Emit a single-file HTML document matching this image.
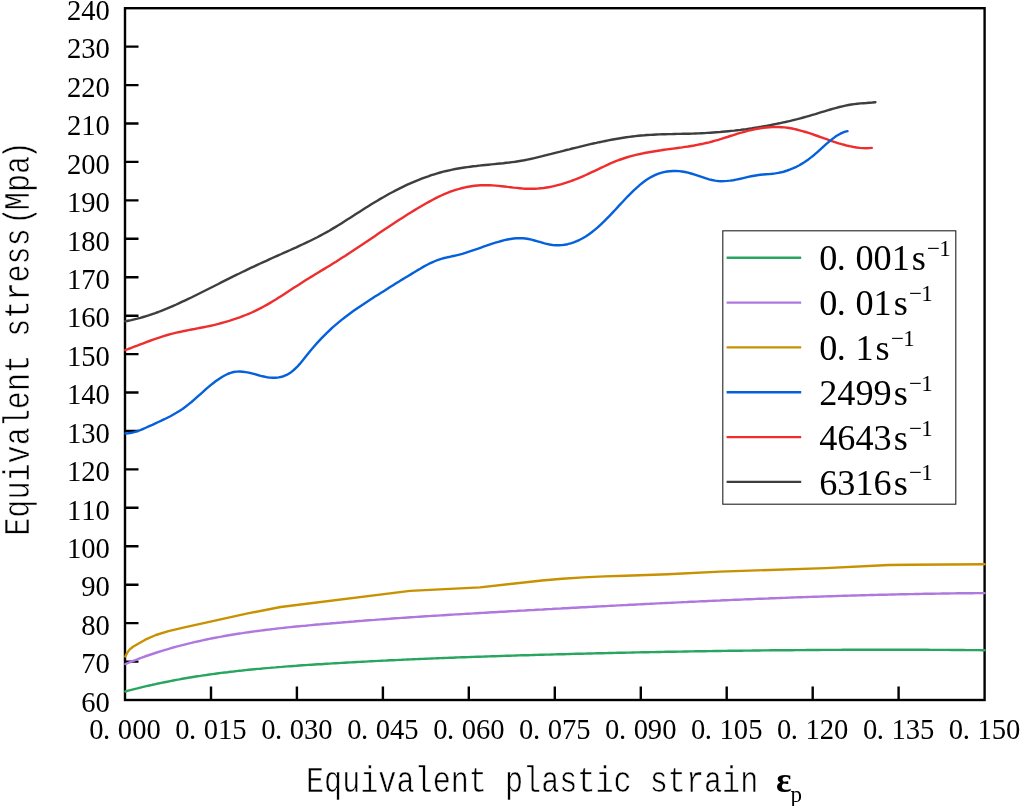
<!DOCTYPE html>
<html><head><meta charset="utf-8"><title>Equivalent stress vs equivalent plastic strain</title>
<style>html,body{margin:0;padding:0;background:#fff}svg{display:block}</style></head>
<body>
<svg width="1020" height="806" viewBox="0 0 1020 806" font-family='"Liberation Serif", serif' fill="#000">
<rect width="1020" height="806" fill="#fff"/>
<g stroke="#000" stroke-width="2.4" fill="none">
<rect x="125.0" y="8.2" width="859.6" height="691.8"/>
<path d="M125.0 661.6H138.5M125.0 623.1H138.5M125.0 584.7H138.5M125.0 546.3H138.5M125.0 507.8H138.5M125.0 469.4H138.5M125.0 431H138.5M125.0 392.5H138.5M125.0 354.1H138.5M125.0 315.7H138.5M125.0 277.2H138.5M125.0 238.8H138.5M125.0 200.4H138.5M125.0 161.9H138.5M125.0 123.5H138.5M125.0 85.1H138.5M125.0 46.6H138.5M211 700.0V686.5M296.9 700.0V686.5M382.9 700.0V686.5M468.8 700.0V686.5M554.8 700.0V686.5M640.8 700.0V686.5M726.7 700.0V686.5M812.7 700.0V686.5M898.6 700.0V686.5"/>
</g>
<g fill="none" stroke-linejoin="round" stroke-linecap="round" stroke-width="2.4">
<path d="M125.3 321.3 L128.3 320.7 L131.3 320.1 L134.3 319.4 L137.3 318.7 L140.3 317.9 L143.3 317 L146.3 316.1 L149.3 315.2 L152.3 314.1 L155.3 313.1 L158.3 312 L161.3 310.8 L164.3 309.6 L167.3 308.4 L170.3 307.1 L173.3 305.8 L176.3 304.5 L179.3 303.1 L182.3 301.7 L185.3 300.3 L188.3 298.9 L191.3 297.5 L194.3 296 L197.3 294.5 L200.3 293 L203.3 291.5 L206.3 290 L209.3 288.5 L212.3 287 L215.3 285.5 L218.3 284 L221.3 282.4 L224.3 280.9 L227.3 279.4 L230.3 277.9 L233.3 276.4 L236.3 274.9 L239.3 273.5 L242.3 272 L245.3 270.6 L248.3 269.1 L251.3 267.7 L254.3 266.3 L257.3 264.9 L260.3 263.5 L263.3 262.1 L266.3 260.8 L269.3 259.4 L272.3 258 L275.3 256.7 L278.3 255.3 L281.3 254 L284.3 252.6 L287.3 251.3 L290.3 250 L293.3 248.6 L296.3 247.3 L299.3 245.9 L302.3 244.5 L305.3 243.1 L308.3 241.7 L311.3 240.2 L314.3 238.7 L317.3 237.2 L320.3 235.6 L323.3 234 L326.3 232.4 L329.3 230.7 L332.3 228.9 L335.3 227.1 L338.3 225.3 L341.3 223.4 L344.3 221.5 L347.3 219.6 L350.3 217.7 L353.3 215.8 L356.3 213.8 L359.3 211.9 L362.3 210 L365.3 208.1 L368.3 206.2 L371.3 204.3 L374.3 202.5 L377.3 200.7 L380.3 198.9 L383.3 197.2 L386.3 195.5 L389.3 193.8 L392.3 192.2 L395.3 190.6 L398.3 189.1 L401.3 187.6 L404.3 186.1 L407.3 184.7 L410.3 183.4 L413.3 182.1 L416.3 180.8 L419.3 179.6 L422.3 178.4 L425.3 177.3 L428.3 176.3 L431.3 175.2 L434.3 174.3 L437.3 173.4 L440.3 172.5 L443.3 171.7 L446.3 171 L449.3 170.3 L452.3 169.6 L455.3 169 L458.3 168.5 L461.3 168 L464.3 167.5 L467.3 167.1 L470.3 166.7 L473.3 166.3 L476.3 166 L479.3 165.6 L482.3 165.3 L485.3 165 L488.3 164.7 L491.3 164.4 L494.3 164.1 L497.3 163.8 L500.3 163.5 L503.3 163.2 L506.3 162.8 L509.3 162.5 L512.3 162.1 L515.3 161.7 L518.3 161.2 L521.3 160.7 L524.3 160.2 L527.3 159.6 L530.3 159 L533.3 158.3 L536.3 157.6 L539.3 156.9 L542.3 156.2 L545.3 155.4 L548.3 154.6 L551.3 153.9 L554.3 153.1 L557.3 152.3 L560.3 151.6 L563.3 150.8 L566.3 150 L569.3 149.3 L572.3 148.5 L575.3 147.8 L578.3 147.1 L581.3 146.3 L584.3 145.6 L587.3 144.9 L590.3 144.2 L593.3 143.5 L596.3 142.9 L599.3 142.2 L602.3 141.6 L605.3 141 L608.3 140.4 L611.3 139.8 L614.3 139.2 L617.3 138.7 L620.3 138.2 L623.3 137.7 L626.3 137.3 L629.3 136.9 L632.3 136.5 L635.3 136.1 L638.3 135.8 L641.3 135.5 L644.3 135.3 L647.3 135 L650.3 134.9 L653.3 134.7 L656.3 134.5 L659.3 134.4 L662.3 134.3 L665.3 134.2 L668.3 134.1 L671.3 134.1 L674.3 134 L677.3 133.9 L680.3 133.9 L683.3 133.8 L686.3 133.8 L689.3 133.7 L692.3 133.6 L695.3 133.5 L698.3 133.4 L701.3 133.2 L704.3 133.1 L707.3 132.9 L710.3 132.7 L713.3 132.5 L716.3 132.3 L719.3 132.1 L722.3 131.8 L725.3 131.5 L728.3 131.2 L731.3 130.9 L734.3 130.6 L737.3 130.2 L740.3 129.9 L743.3 129.5 L746.3 129.1 L749.3 128.6 L752.3 128.2 L755.3 127.7 L758.3 127.3 L761.3 126.8 L764.3 126.2 L767.3 125.7 L770.3 125.1 L773.3 124.5 L776.3 123.9 L779.3 123.3 L782.3 122.6 L785.3 122 L788.3 121.3 L791.3 120.6 L794.3 119.8 L797.3 119.1 L800.4 118.3 L803.4 117.5 L806.4 116.7 L809.4 115.8 L812.4 114.9 L815.4 114.1 L818.4 113.1 L821.4 112.2 L824.4 111.3 L827.4 110.4 L830.4 109.5 L833.4 108.6 L836.4 107.8 L839.4 107 L842.4 106.3 L845.4 105.6 L848.4 105 L851.4 104.5 L854.4 104.1 L857.4 103.7 L860.4 103.4 L863.4 103.2 L866.4 103 L869.4 102.7 L872.4 102.5 L875.4 102.2" stroke="#3e3e3e"/>
<path d="M125.3 350.2 L128.3 349 L131.3 347.9 L134.3 346.7 L137.3 345.6 L140.3 344.4 L143.3 343.3 L146.3 342.1 L149.4 341 L152.4 339.9 L155.4 338.8 L158.4 337.8 L161.4 336.8 L164.4 335.9 L167.4 335 L170.4 334.1 L173.4 333.4 L176.4 332.6 L179.5 332 L182.5 331.3 L185.5 330.7 L188.5 330.1 L191.5 329.5 L194.5 329 L197.5 328.4 L200.5 327.8 L203.5 327.2 L206.5 326.6 L209.6 326 L212.6 325.3 L215.6 324.6 L218.6 323.8 L221.6 323 L224.6 322.2 L227.6 321.3 L230.6 320.4 L233.6 319.4 L236.6 318.4 L239.7 317.4 L242.7 316.2 L245.7 315 L248.7 313.8 L251.7 312.5 L254.7 311.1 L257.7 309.6 L260.7 308.1 L263.7 306.5 L266.7 304.9 L269.8 303.1 L272.8 301.3 L275.8 299.5 L278.8 297.6 L281.8 295.7 L284.8 293.7 L287.8 291.8 L290.8 289.8 L293.8 287.8 L296.8 285.9 L299.9 283.9 L302.9 282 L305.9 280.1 L308.9 278.2 L311.9 276.4 L314.9 274.5 L317.9 272.7 L320.9 270.9 L323.9 269.1 L326.9 267.3 L330 265.4 L333 263.5 L336 261.7 L339 259.8 L342 257.8 L345 255.9 L348 253.9 L351 252 L354 250 L357 248 L360.1 246 L363.1 244 L366.1 242 L369.1 239.9 L372.1 237.9 L375.1 235.9 L378.1 233.8 L381.1 231.8 L384.1 229.8 L387.2 227.8 L390.2 225.8 L393.2 223.8 L396.2 221.8 L399.2 219.8 L402.2 217.9 L405.2 216 L408.2 214.1 L411.2 212.2 L414.2 210.4 L417.3 208.5 L420.3 206.7 L423.3 205 L426.3 203.3 L429.3 201.6 L432.3 200 L435.3 198.4 L438.3 196.9 L441.3 195.5 L444.3 194.1 L447.4 192.9 L450.4 191.7 L453.4 190.6 L456.4 189.6 L459.4 188.8 L462.4 188 L465.4 187.3 L468.4 186.7 L471.4 186.2 L474.4 185.8 L477.5 185.5 L480.5 185.3 L483.5 185.2 L486.5 185.1 L489.5 185.2 L492.5 185.4 L495.5 185.6 L498.5 185.9 L501.5 186.2 L504.5 186.5 L507.6 186.9 L510.6 187.2 L513.6 187.6 L516.6 187.9 L519.6 188.2 L522.6 188.5 L525.6 188.7 L528.6 188.8 L531.6 188.8 L534.6 188.8 L537.7 188.6 L540.7 188.3 L543.7 188 L546.7 187.5 L549.7 187 L552.7 186.4 L555.7 185.7 L558.7 184.9 L561.7 184.1 L564.7 183.1 L567.8 182.1 L570.8 181.1 L573.8 180 L576.8 178.8 L579.8 177.6 L582.8 176.3 L585.8 175 L588.8 173.6 L591.8 172.2 L594.8 170.8 L597.9 169.4 L600.9 167.9 L603.9 166.5 L606.9 165.1 L609.9 163.7 L612.9 162.4 L615.9 161.2 L618.9 160 L621.9 159 L624.9 158 L628 157 L631 156.2 L634 155.4 L637 154.6 L640 154 L643 153.3 L646 152.7 L649 152.2 L652 151.7 L655 151.2 L658.1 150.7 L661.1 150.3 L664.1 149.8 L667.1 149.4 L670.1 149 L673.1 148.6 L676.1 148.2 L679.1 147.8 L682.1 147.4 L685.1 146.9 L688.2 146.5 L691.2 146 L694.2 145.5 L697.2 144.9 L700.2 144.3 L703.2 143.7 L706.2 143 L709.2 142.3 L712.2 141.5 L715.2 140.6 L718.3 139.8 L721.3 138.9 L724.3 137.9 L727.3 137 L730.3 136 L733.3 135.1 L736.3 134.1 L739.3 133.2 L742.3 132.4 L745.3 131.5 L748.4 130.7 L751.4 130 L754.4 129.3 L757.4 128.7 L760.4 128.2 L763.4 127.8 L766.4 127.5 L769.4 127.2 L772.4 127.1 L775.4 127 L778.5 127 L781.5 127.2 L784.5 127.4 L787.5 127.8 L790.5 128.3 L793.5 128.8 L796.5 129.5 L799.5 130.3 L802.5 131.1 L805.6 132 L808.6 132.9 L811.6 133.9 L814.6 135 L817.6 136 L820.6 137.1 L823.6 138.2 L826.6 139.2 L829.6 140.3 L832.6 141.3 L835.7 142.3 L838.7 143.3 L841.7 144.2 L844.7 145 L847.7 145.8 L850.7 146.4 L853.7 147 L856.7 147.5 L859.7 147.9 L862.7 148.1 L865.8 148.2 L868.8 148.1 L871.8 147.9" stroke="#ee2d2d"/>
<path d="M125.3 433.5 L128.3 433.3 L131.3 432.8 L134.3 432.1 L137.3 431.2 L140.3 430.1 L143.3 428.8 L146.3 427.5 L149.3 426.1 L152.4 424.8 L155.4 423.4 L158.4 422 L161.4 420.6 L164.4 419.2 L167.4 417.7 L170.4 416.2 L173.4 414.5 L176.4 412.8 L179.4 410.9 L182.5 408.9 L185.5 406.8 L188.5 404.4 L191.5 402 L194.5 399.4 L197.5 396.7 L200.5 394.1 L203.5 391.4 L206.5 388.7 L209.5 386.2 L212.5 383.7 L215.6 381.3 L218.6 379.2 L221.6 377.2 L224.6 375.5 L227.6 374 L230.6 372.9 L233.6 372 L236.6 371.6 L239.6 371.5 L242.6 371.7 L245.6 372.1 L248.7 372.6 L251.7 373.4 L254.7 374.2 L257.7 375 L260.7 375.8 L263.7 376.5 L266.7 377.2 L269.7 377.6 L272.7 377.8 L275.7 377.8 L278.7 377.4 L281.8 376.8 L284.8 375.7 L287.8 374.3 L290.8 372.4 L293.8 370 L296.8 367.2 L299.8 363.9 L302.8 360.3 L305.8 356.5 L308.8 352.7 L311.9 349 L314.9 345.5 L317.9 342.1 L320.9 338.9 L323.9 335.8 L326.9 332.8 L329.9 330 L332.9 327.2 L335.9 324.6 L338.9 322.1 L341.9 319.6 L345 317.2 L348 315 L351 312.7 L354 310.6 L357 308.5 L360 306.4 L363 304.4 L366 302.4 L369 300.5 L372 298.6 L375 296.6 L378.1 294.7 L381.1 292.8 L384.1 290.9 L387.1 289 L390.1 287.1 L393.1 285.2 L396.1 283.3 L399.1 281.5 L402.1 279.6 L405.1 277.8 L408.2 275.9 L411.2 274.1 L414.2 272.3 L417.2 270.4 L420.2 268.7 L423.2 266.9 L426.2 265.3 L429.2 263.7 L432.2 262.3 L435.2 261 L438.2 259.8 L441.3 258.8 L444.3 258 L447.3 257.3 L450.3 256.7 L453.3 256 L456.3 255.3 L459.3 254.6 L462.3 253.8 L465.3 252.9 L468.3 251.9 L471.3 250.9 L474.4 249.9 L477.4 248.9 L480.4 247.8 L483.4 246.7 L486.4 245.7 L489.4 244.6 L492.4 243.6 L495.4 242.7 L498.4 241.8 L501.4 241 L504.4 240.2 L507.5 239.5 L510.5 239 L513.5 238.5 L516.5 238.2 L519.5 238.1 L522.5 238.2 L525.5 238.5 L528.5 239 L531.5 239.7 L534.5 240.5 L537.6 241.3 L540.6 242.2 L543.6 243.1 L546.6 243.8 L549.6 244.5 L552.6 245 L555.6 245.2 L558.6 245.3 L561.6 245.1 L564.6 244.8 L567.6 244.2 L570.7 243.4 L573.7 242.4 L576.7 241.2 L579.7 239.8 L582.7 238.3 L585.7 236.5 L588.7 234.5 L591.7 232.3 L594.7 229.9 L597.7 227.4 L600.7 224.6 L603.8 221.7 L606.8 218.7 L609.8 215.6 L612.8 212.4 L615.8 209.2 L618.8 205.9 L621.8 202.7 L624.8 199.5 L627.8 196.3 L630.8 193.3 L633.8 190.3 L636.9 187.6 L639.9 184.9 L642.9 182.5 L645.9 180.3 L648.9 178.3 L651.9 176.6 L654.9 175.2 L657.9 173.9 L660.9 172.9 L663.9 172.1 L667 171.5 L670 171.2 L673 171 L676 171 L679 171.1 L682 171.5 L685 172 L688 172.7 L691 173.5 L694 174.4 L697 175.4 L700.1 176.4 L703.1 177.4 L706.1 178.4 L709.1 179.3 L712.1 180 L715.1 180.6 L718.1 181 L721.1 181.2 L724.1 181.1 L727.1 180.9 L730.1 180.6 L733.2 180.2 L736.2 179.6 L739.2 179 L742.2 178.3 L745.2 177.6 L748.2 176.9 L751.2 176.3 L754.2 175.7 L757.2 175.2 L760.2 174.8 L763.2 174.5 L766.3 174.3 L769.3 174.1 L772.3 173.8 L775.3 173.4 L778.3 172.9 L781.3 172.3 L784.3 171.5 L787.3 170.5 L790.3 169.4 L793.3 168.2 L796.4 166.8 L799.4 165.2 L802.4 163.4 L805.4 161.5 L808.4 159.4 L811.4 157.1 L814.4 154.7 L817.4 152.1 L820.4 149.4 L823.4 146.6 L826.4 143.9 L829.5 141.3 L832.5 138.9 L835.5 136.6 L838.5 134.7 L841.5 133.1 L844.5 131.9 L847.5 131.1" stroke="#0560dc"/>
<path d="M125.3 656.5 L127.3 652.6 L129.5 649.6 L133 646.8 L136.9 644.5 L145.3 639.7 L155.9 635 L168.5 631.2 L183.3 627.6 L246.6 613.7 L280.6 607 L410 590.9 L480 587.4 L542 580.5 L562.2 578.7 L583.3 577.4 L604.4 576.4 L625.5 575.7 L667.7 574.3 L720 571.6 L825.5 568.1 L888.8 565 L909.9 564.7 L984.6 564.2" stroke="#c89100"/>
<path d="M125.3 664.1 L128.3 662.8 L131.3 661.6 L134.3 660.5 L137.3 659.3 L140.3 658.2 L143.3 657.1 L146.3 656 L149.3 655 L152.3 654 L155.3 653 L158.3 652 L161.3 651.1 L164.3 650.2 L167.3 649.3 L170.3 648.4 L173.3 647.5 L176.4 646.7 L179.4 645.9 L182.4 645.1 L185.4 644.3 L188.4 643.6 L191.4 642.9 L194.4 642.1 L197.4 641.5 L200.4 640.8 L203.4 640.1 L206.4 639.5 L209.4 638.9 L212.4 638.3 L215.4 637.7 L218.4 637.1 L221.4 636.6 L224.4 636 L227.4 635.5 L230.4 635 L233.4 634.5 L236.4 634 L239.4 633.5 L242.4 633.1 L245.5 632.6 L248.5 632.2 L251.5 631.8 L254.5 631.4 L257.5 631 L260.5 630.6 L263.5 630.2 L266.5 629.8 L269.5 629.5 L272.5 629.1 L275.5 628.8 L278.5 628.4 L281.5 628.1 L284.5 627.8 L287.5 627.4 L290.5 627.1 L293.5 626.8 L296.5 626.5 L299.5 626.2 L302.5 625.9 L305.5 625.7 L308.5 625.4 L311.6 625.1 L314.6 624.8 L317.6 624.5 L320.6 624.3 L323.6 624 L326.6 623.7 L329.6 623.5 L332.6 623.2 L335.6 623 L338.6 622.7 L341.6 622.5 L344.6 622.2 L347.6 622 L350.6 621.7 L353.6 621.5 L356.6 621.2 L359.6 621 L362.6 620.8 L365.6 620.5 L368.6 620.3 L371.6 620.1 L374.6 619.9 L377.7 619.6 L380.7 619.4 L383.7 619.2 L386.7 619 L389.7 618.8 L392.7 618.5 L395.7 618.3 L398.7 618.1 L401.7 617.9 L404.7 617.7 L407.7 617.5 L410.7 617.3 L413.7 617.1 L416.7 616.9 L419.7 616.7 L422.7 616.5 L425.7 616.3 L428.7 616.1 L431.7 615.9 L434.7 615.7 L437.7 615.6 L440.7 615.4 L443.7 615.2 L446.8 615 L449.8 614.8 L452.8 614.6 L455.8 614.4 L458.8 614.3 L461.8 614.1 L464.8 613.9 L467.8 613.7 L470.8 613.6 L473.8 613.4 L476.8 613.2 L479.8 613 L482.8 612.9 L485.8 612.7 L488.8 612.5 L491.8 612.3 L494.8 612.2 L497.8 612 L500.8 611.8 L503.8 611.7 L506.8 611.5 L509.8 611.3 L512.9 611.1 L515.9 611 L518.9 610.8 L521.9 610.6 L524.9 610.5 L527.9 610.3 L530.9 610.1 L533.9 610 L536.9 609.8 L539.9 609.6 L542.9 609.5 L545.9 609.3 L548.9 609.1 L551.9 609 L554.9 608.8 L557.9 608.6 L560.9 608.5 L563.9 608.3 L566.9 608.2 L569.9 608 L572.9 607.8 L575.9 607.7 L579 607.5 L582 607.3 L585 607.2 L588 607 L591 606.9 L594 606.7 L597 606.5 L600 606.4 L603 606.2 L606 606.1 L609 605.9 L612 605.7 L615 605.6 L618 605.4 L621 605.3 L624 605.1 L627 605 L630 604.8 L633 604.7 L636 604.5 L639 604.4 L642 604.2 L645.1 604 L648.1 603.9 L651.1 603.7 L654.1 603.6 L657.1 603.4 L660.1 603.3 L663.1 603.1 L666.1 603 L669.1 602.9 L672.1 602.7 L675.1 602.6 L678.1 602.4 L681.1 602.3 L684.1 602.1 L687.1 602 L690.1 601.8 L693.1 601.7 L696.1 601.6 L699.1 601.4 L702.1 601.3 L705.1 601.2 L708.1 601 L711.1 600.9 L714.2 600.7 L717.2 600.6 L720.2 600.5 L723.2 600.3 L726.2 600.2 L729.2 600.1 L732.2 599.9 L735.2 599.8 L738.2 599.7 L741.2 599.6 L744.2 599.4 L747.2 599.3 L750.2 599.2 L753.2 599.1 L756.2 598.9 L759.2 598.8 L762.2 598.7 L765.2 598.6 L768.2 598.5 L771.2 598.3 L774.2 598.2 L777.2 598.1 L780.3 598 L783.3 597.9 L786.3 597.8 L789.3 597.6 L792.3 597.5 L795.3 597.4 L798.3 597.3 L801.3 597.2 L804.3 597.1 L807.3 597 L810.3 596.9 L813.3 596.8 L816.3 596.7 L819.3 596.6 L822.3 596.5 L825.3 596.4 L828.3 596.3 L831.3 596.2 L834.3 596.1 L837.3 596 L840.3 595.9 L843.3 595.8 L846.4 595.7 L849.4 595.6 L852.4 595.5 L855.4 595.5 L858.4 595.4 L861.4 595.3 L864.4 595.2 L867.4 595.1 L870.4 595 L873.4 595 L876.4 594.9 L879.4 594.8 L882.4 594.7 L885.4 594.7 L888.4 594.6 L891.4 594.5 L894.4 594.5 L897.4 594.4 L900.4 594.3 L903.4 594.3 L906.4 594.2 L909.4 594.1 L912.4 594.1 L915.5 594 L918.5 594 L921.5 593.9 L924.5 593.8 L927.5 593.8 L930.5 593.7 L933.5 593.7 L936.5 593.6 L939.5 593.6 L942.5 593.5 L945.5 593.5 L948.5 593.5 L951.5 593.4 L954.5 593.4 L957.5 593.3 L960.5 593.3 L963.5 593.3 L966.5 593.2 L969.5 593.2 L972.5 593.2 L975.5 593.1 L978.5 593.1 L981.6 593.1 L984.6 593.1" stroke="#af78de"/>
<path d="M125.3 691.5 L128.3 690.7 L131.3 689.9 L134.3 689.1 L137.3 688.4 L140.3 687.6 L143.3 686.9 L146.3 686.2 L149.3 685.5 L152.3 684.8 L155.3 684.2 L158.3 683.5 L161.3 682.9 L164.3 682.3 L167.3 681.7 L170.3 681.1 L173.3 680.5 L176.4 679.9 L179.4 679.4 L182.4 678.8 L185.4 678.3 L188.4 677.8 L191.4 677.3 L194.4 676.8 L197.4 676.3 L200.4 675.9 L203.4 675.4 L206.4 675 L209.4 674.5 L212.4 674.1 L215.4 673.7 L218.4 673.3 L221.4 672.9 L224.4 672.5 L227.4 672.2 L230.4 671.8 L233.4 671.5 L236.4 671.1 L239.4 670.8 L242.4 670.5 L245.5 670.1 L248.5 669.8 L251.5 669.5 L254.5 669.2 L257.5 668.9 L260.5 668.7 L263.5 668.4 L266.5 668.1 L269.5 667.9 L272.5 667.6 L275.5 667.4 L278.5 667.1 L281.5 666.9 L284.5 666.6 L287.5 666.4 L290.5 666.2 L293.5 666 L296.5 665.8 L299.5 665.5 L302.5 665.3 L305.5 665.1 L308.5 664.9 L311.6 664.7 L314.6 664.5 L317.6 664.3 L320.6 664.2 L323.6 664 L326.6 663.8 L329.6 663.6 L332.6 663.4 L335.6 663.2 L338.6 663.1 L341.6 662.9 L344.6 662.7 L347.6 662.5 L350.6 662.4 L353.6 662.2 L356.6 662 L359.6 661.9 L362.6 661.7 L365.6 661.6 L368.6 661.4 L371.6 661.2 L374.6 661.1 L377.7 660.9 L380.7 660.8 L383.7 660.6 L386.7 660.5 L389.7 660.3 L392.7 660.2 L395.7 660.1 L398.7 659.9 L401.7 659.8 L404.7 659.6 L407.7 659.5 L410.7 659.4 L413.7 659.2 L416.7 659.1 L419.7 659 L422.7 658.9 L425.7 658.7 L428.7 658.6 L431.7 658.5 L434.7 658.4 L437.7 658.2 L440.7 658.1 L443.7 658 L446.8 657.9 L449.8 657.8 L452.8 657.7 L455.8 657.5 L458.8 657.4 L461.8 657.3 L464.8 657.2 L467.8 657.1 L470.8 657 L473.8 656.9 L476.8 656.8 L479.8 656.7 L482.8 656.6 L485.8 656.5 L488.8 656.4 L491.8 656.3 L494.8 656.2 L497.8 656.1 L500.8 656 L503.8 655.9 L506.8 655.8 L509.8 655.7 L512.9 655.6 L515.9 655.5 L518.9 655.4 L521.9 655.3 L524.9 655.2 L527.9 655.2 L530.9 655.1 L533.9 655 L536.9 654.9 L539.9 654.8 L542.9 654.7 L545.9 654.6 L548.9 654.6 L551.9 654.5 L554.9 654.4 L557.9 654.3 L560.9 654.2 L563.9 654.2 L566.9 654.1 L569.9 654 L572.9 653.9 L575.9 653.8 L579 653.8 L582 653.7 L585 653.6 L588 653.5 L591 653.5 L594 653.4 L597 653.3 L600 653.2 L603 653.2 L606 653.1 L609 653 L612 653 L615 652.9 L618 652.8 L621 652.8 L624 652.7 L627 652.6 L630 652.6 L633 652.5 L636 652.4 L639 652.4 L642 652.3 L645.1 652.3 L648.1 652.2 L651.1 652.1 L654.1 652.1 L657.1 652 L660.1 652 L663.1 651.9 L666.1 651.8 L669.1 651.8 L672.1 651.7 L675.1 651.7 L678.1 651.6 L681.1 651.6 L684.1 651.5 L687.1 651.5 L690.1 651.4 L693.1 651.4 L696.1 651.3 L699.1 651.3 L702.1 651.2 L705.1 651.2 L708.1 651.1 L711.1 651.1 L714.2 651 L717.2 651 L720.2 651 L723.2 650.9 L726.2 650.9 L729.2 650.8 L732.2 650.8 L735.2 650.8 L738.2 650.7 L741.2 650.7 L744.2 650.6 L747.2 650.6 L750.2 650.6 L753.2 650.5 L756.2 650.5 L759.2 650.5 L762.2 650.4 L765.2 650.4 L768.2 650.4 L771.2 650.3 L774.2 650.3 L777.2 650.3 L780.3 650.3 L783.3 650.2 L786.3 650.2 L789.3 650.2 L792.3 650.2 L795.3 650.1 L798.3 650.1 L801.3 650.1 L804.3 650.1 L807.3 650 L810.3 650 L813.3 650 L816.3 650 L819.3 650 L822.3 649.9 L825.3 649.9 L828.3 649.9 L831.3 649.9 L834.3 649.9 L837.3 649.9 L840.3 649.9 L843.3 649.8 L846.4 649.8 L849.4 649.8 L852.4 649.8 L855.4 649.8 L858.4 649.8 L861.4 649.8 L864.4 649.8 L867.4 649.8 L870.4 649.8 L873.4 649.8 L876.4 649.8 L879.4 649.8 L882.4 649.8 L885.4 649.8 L888.4 649.8 L891.4 649.8 L894.4 649.8 L897.4 649.8 L900.4 649.8 L903.4 649.8 L906.4 649.8 L909.4 649.8 L912.4 649.8 L915.5 649.8 L918.5 649.8 L921.5 649.8 L924.5 649.8 L927.5 649.8 L930.5 649.9 L933.5 649.9 L936.5 649.9 L939.5 649.9 L942.5 649.9 L945.5 649.9 L948.5 649.9 L951.5 650 L954.5 650 L957.5 650 L960.5 650 L963.5 650 L966.5 650.1 L969.5 650.1 L972.5 650.1 L975.5 650.1 L978.5 650.1 L981.6 650.2 L984.6 650.2" stroke="#28a55f"/>
</g>
<g>
<text x="88.4 102.7" y="711.7" font-size="28.6" text-anchor="middle" >60</text>
<text x="88.4 102.7" y="673.3" font-size="28.6" text-anchor="middle" >70</text>
<text x="88.4 102.7" y="634.8" font-size="28.6" text-anchor="middle" >80</text>
<text x="88.4 102.7" y="596.4" font-size="28.6" text-anchor="middle" >90</text>
<text x="74.1 88.4 102.7" y="558" font-size="28.6" text-anchor="middle" >100</text>
<text x="74.1 88.4 102.7" y="519.5" font-size="28.6" text-anchor="middle" >110</text>
<text x="74.1 88.4 102.7" y="481.1" font-size="28.6" text-anchor="middle" >120</text>
<text x="74.1 88.4 102.7" y="442.7" font-size="28.6" text-anchor="middle" >130</text>
<text x="74.1 88.4 102.7" y="404.2" font-size="28.6" text-anchor="middle" >140</text>
<text x="74.1 88.4 102.7" y="365.8" font-size="28.6" text-anchor="middle" >150</text>
<text x="74.1 88.4 102.7" y="327.4" font-size="28.6" text-anchor="middle" >160</text>
<text x="74.1 88.4 102.7" y="288.9" font-size="28.6" text-anchor="middle" >170</text>
<text x="74.1 88.4 102.7" y="250.5" font-size="28.6" text-anchor="middle" >180</text>
<text x="74.1 88.4 102.7" y="212.1" font-size="28.6" text-anchor="middle" >190</text>
<text x="74.1 88.4 102.7" y="173.6" font-size="28.6" text-anchor="middle" >200</text>
<text x="74.1 88.4 102.7" y="135.2" font-size="28.6" text-anchor="middle" >210</text>
<text x="74.1 88.4 102.7" y="96.8" font-size="28.6" text-anchor="middle" >220</text>
<text x="74.1 88.4 102.7" y="58.3" font-size="28.6" text-anchor="middle" >230</text>
<text x="74.1 88.4 102.7" y="19.9" font-size="28.6" text-anchor="middle" >240</text>
<text x="96.4 106.7 125 139.3 153.6" y="739.2" font-size="28.6" text-anchor="middle" >0.000</text>
<text x="182.4 192.7 211 225.2 239.5" y="739.2" font-size="28.6" text-anchor="middle" >0.015</text>
<text x="268.4 278.6 296.9 311.2 325.5" y="739.2" font-size="28.6" text-anchor="middle" >0.030</text>
<text x="354.3 364.6 382.9 397.2 411.4" y="739.2" font-size="28.6" text-anchor="middle" >0.045</text>
<text x="440.3 450.6 468.8 483.1 497.4" y="739.2" font-size="28.6" text-anchor="middle" >0.060</text>
<text x="526.2 536.5 554.8 569.1 583.4" y="739.2" font-size="28.6" text-anchor="middle" >0.075</text>
<text x="612.2 622.5 640.8 655 669.3" y="739.2" font-size="28.6" text-anchor="middle" >0.090</text>
<text x="698.2 708.4 726.7 741 755.3" y="739.2" font-size="28.6" text-anchor="middle" >0.105</text>
<text x="784.1 794.4 812.7 827 841.2" y="739.2" font-size="28.6" text-anchor="middle" >0.120</text>
<text x="870.1 880.4 898.6 912.9 927.2" y="739.2" font-size="28.6" text-anchor="middle" >0.135</text>
<text x="956 966.3 984.6 998.9 1013.2" y="739.2" font-size="28.6" text-anchor="middle" >0.150</text>
</g>
<g transform="translate(306 792.2) scale(0.8333 1)"><text font-size="36.2" font-family="'Liberation Mono', monospace" stroke="#fff" stroke-width="0.6">Equivalent plastic strain</text></g>
<text x="776" y="792.2" font-size="36.2" font-weight="bold">ε</text>
<text x="790.5" y="801.5" font-size="23">p</text>
<g transform="translate(28.8 535.8) rotate(-90) scale(0.8333 1)"><text font-size="36.2" font-family="'Liberation Mono', monospace" stroke="#fff" stroke-width="0.6" dx="0 0 0 0 0 0 0 0 0 0 0 0 0 0 0 0 0 4.2 -4.2 0 0 -4.2">Equivalent stress(Mpa)</text></g>
<rect x="722.8" y="230.8" width="233" height="273.4" fill="#fff" stroke="#222" stroke-width="1.1"/>
<line x1="726.6" x2="801.2" y1="257.8" y2="257.8" stroke="#28a55f" stroke-width="2.4"/>
<text x="828.2 841.3 864.5 882.6 900.7 918.8" y="270.4" font-size="36.2" text-anchor="middle" >0.001s</text>
<text x="933.6 945.1" y="256.2" font-size="23" text-anchor="middle" >−1</text>
<line x1="726.6" x2="801.2" y1="302.6" y2="302.6" stroke="#af78de" stroke-width="2.4"/>
<text x="828.2 841.3 864.5 882.6 900.7" y="315.2" font-size="36.2" text-anchor="middle" >0.01s</text>
<text x="915.5 927" y="301.1" font-size="23" text-anchor="middle" >−1</text>
<line x1="726.6" x2="801.2" y1="347.4" y2="347.4" stroke="#c89100" stroke-width="2.4"/>
<text x="828.2 841.3 864.5 882.6" y="360" font-size="36.2" text-anchor="middle" >0.1s</text>
<text x="897.4 908.9" y="345.9" font-size="23" text-anchor="middle" >−1</text>
<line x1="726.6" x2="801.2" y1="392.2" y2="392.2" stroke="#0560dc" stroke-width="2.4"/>
<text x="828.2 846.4 864.5 882.6 900.7" y="404.8" font-size="36.2" text-anchor="middle" >2499s</text>
<text x="915.5 927" y="390.7" font-size="23" text-anchor="middle" >−1</text>
<line x1="726.6" x2="801.2" y1="437.1" y2="437.1" stroke="#ee2d2d" stroke-width="2.4"/>
<text x="828.2 846.4 864.5 882.6 900.7" y="449.7" font-size="36.2" text-anchor="middle" >4643s</text>
<text x="915.5 927" y="435.6" font-size="23" text-anchor="middle" >−1</text>
<line x1="726.6" x2="801.2" y1="481.9" y2="481.9" stroke="#3e3e3e" stroke-width="2.4"/>
<text x="828.2 846.4 864.5 882.6 900.7" y="494.5" font-size="36.2" text-anchor="middle" >6316s</text>
<text x="915.5 927" y="480.4" font-size="23" text-anchor="middle" >−1</text>
</svg>
</body></html>
